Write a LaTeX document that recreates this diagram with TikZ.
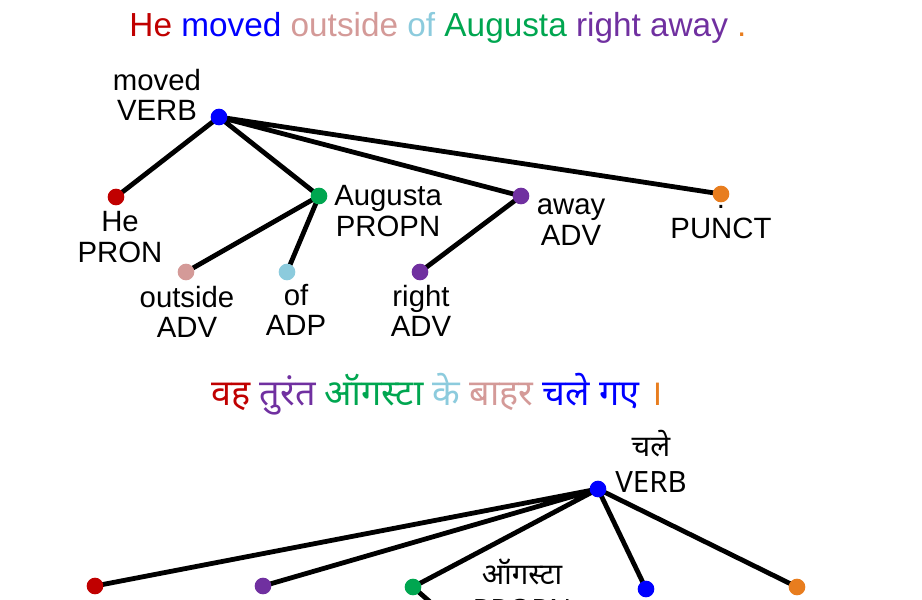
\documentclass[tikz,border=0pt]{standalone}
\usepackage{fontspec}
\setmainfont{Liberation Sans}
\newfontfamily\deva[Script=Devanagari]{Noto Sans}
\definecolor{cred}{HTML}{C00000}
\definecolor{cblue}{HTML}{0000FF}
\definecolor{cpink}{HTML}{D49A98}
\definecolor{clb}{HTML}{8CCBDD}
\definecolor{cgreen}{HTML}{00A650}
\definecolor{cpur}{HTML}{7030A0}
\definecolor{corg}{HTML}{E87D1E}
\tikzset{
  dot/.style={circle,fill=#1,inner sep=0pt,minimum size=12.5pt},
  lbl/.style={align=center,font=\fontsize{22}{23}\selectfont,inner sep=0pt},
  edge/.style={line width=3.6pt,black}
}
\begin{document}
\begin{tikzpicture}[x=0.75pt,y=-0.75pt]
\useasboundingbox (0,0) rectangle (922,600);
\clip (0,0) rectangle (922,600);
\node[lbl,font=\fontsize{25}{27}\selectfont] (t1) at (438,28) {\textcolor{cred}{He} \textcolor{cblue}{moved} \textcolor{cpink}{outside} \textcolor{clb}{of} \textcolor{cgreen}{Augusta} \textcolor{cpur}{right away} \textcolor{corg}{.}};
\coordinate (moved) at (219,117);
\coordinate (he) at (116,197);
\coordinate (aug) at (319,196);
\coordinate (away) at (521,196);
\coordinate (punct) at (721,194);
\coordinate (outs) at (186,272);
\coordinate (of) at (287,272);
\coordinate (right) at (420,272);
\draw[edge] (moved)--(he) (moved)--(aug) (moved)--(away) (moved)--(punct) (aug)--(outs) (aug)--(of) (away)--(right);
\node[dot=cblue] (nmoved) at (moved) {};
\node[dot=cred] (nhe) at (he) {};
\node[dot=cgreen] (naug) at (aug) {};
\node[dot=cpur] (naway) at (away) {};
\node[dot=corg] (npunct) at (punct) {};
\node[dot=cpink] (nouts) at (outs) {};
\node[dot=clb] (nof) at (of) {};
\node[dot=cpur] (nright) at (right) {};
\node[lbl] (lmoved) at (157,95) {moved\\VERB};
\node[lbl] (lhe) at (120,237) {He\\PRON};
\node[lbl,anchor=west] (laug) at (334,211) {Augusta\\PROPN};
\node[lbl] (laway) at (571,222) {away\\ADV};
\node[lbl] (lpunct) at (721,222) {.\\PUNCT};
\node[lbl] (louts) at (187,312) {outside\\ADV};
\node[lbl] (lof) at (296,310) {of\\ADP};
\node[lbl] (lright) at (421,311) {right\\ADV};
\node[lbl,font=\deva\fontsize{27}{29}\selectfont] (t2) at (437,394) {\textcolor{cred}{वह} \textcolor{cpur}{तुरंत} \textcolor{cgreen}{ऑगस्टा} \textcolor{clb}{के} \textcolor{cpink}{बाहर} \textcolor{cblue}{चले गए} \textcolor{corg}{।}};
\coordinate (chale) at (598,489);
\coordinate (b1) at (95,586);
\coordinate (b2) at (263,586);
\coordinate (b3) at (413,587);
\coordinate (b4) at (646,589);
\coordinate (b5) at (797,587);
\coordinate (below) at (445,615);
\draw[edge] (chale)--(b1) (chale)--(b2) (chale)--(b3) (chale)--(b4) (chale)--(b5) (b3)--(below);
\node[dot=cblue] (nchale) at (chale) {};
\node[dot=cred] (nb1) at (b1) {};
\node[dot=cpur] (nb2) at (b2) {};
\node[dot=cgreen] (nb3) at (b3) {};
\node[dot=cblue] (nb4) at (b4) {};
\node[dot=corg] (nb5) at (b5) {};
\node[lbl,font=\deva\fontsize{22}{27}\selectfont] (lchale) at (651,461) {चले\\VERB};
\node[lbl,font=\deva\fontsize{22}{27}\selectfont] (lb3) at (522,590) {ऑगस्टा\\PROPN};
\end{tikzpicture}
\end{document}
